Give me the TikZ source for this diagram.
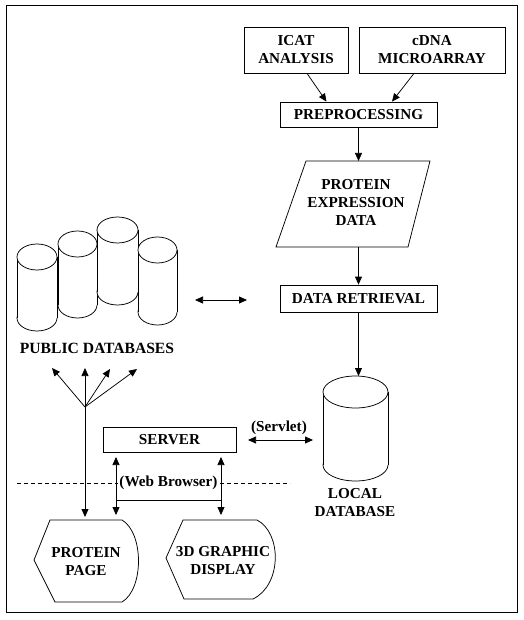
\documentclass[tikz,border=0pt]{standalone}
\usepackage{fontspec}
\setmainfont{Liberation Serif}
\usetikzlibrary{arrows.meta}
\newcommand\mycyl[5]{% cx, ytop, ybot, rx, ry
  \draw[fill=white] (#1,{#3-#5}) ellipse [x radius=#4pt, y radius=#5pt];
  \fill[white] ({#1-#4},{#2+#5}) rectangle ({#1+#4},{#3-#5});
  \draw ({#1-#4},{#2+#5}) -- ({#1-#4},{#3-#5}) ({#1+#4},{#2+#5}) -- ({#1+#4},{#3-#5});
  \draw[fill=white] (#1,{#2+#5}) ellipse [x radius=#4pt, y radius=#5pt];
}
\begin{document}
\begin{tikzpicture}[x=1pt,y=-1pt,line width=0.75pt,
  every node/.style={font=\bfseries\fontsize{15.2}{18}\selectfont},
  box/.style={draw,rectangle,inner sep=0pt,align=center},
  lbl/.style={align=center,inner sep=0pt},
  arr/.style={-{Triangle[length=8pt,width=7pt]}},
  darr/.style={{Triangle[length=8pt,width=7pt]}-{Triangle[length=8pt,width=7pt]}}]
\useasboundingbox (0,0) rectangle (523,620);
\draw[line width=0.9pt] (6,5) rectangle (517,612);

% top boxes
\node[box,minimum width=104pt,minimum height=46pt] (icat) at (296,50) {ICAT\\ANALYSIS};
\node[box,minimum width=146pt,minimum height=46pt] (cdna) at (432,50) {cDNA\\MICROARRAY};
\node[box,minimum width=157pt,minimum height=25pt] (prep) at (358.5,114.5) {PREPROCESSING};
\draw[arr] ([xshift=11pt]icat.south) -- ([xshift=-32pt]prep.north);
\draw[arr] ([xshift=-18pt]cdna.south) -- ([xshift=33.5pt]prep.north);

% protein expression data (parallelogram)
\coordinate (pedtl) at (306,161);
\coordinate (pedtr) at (430,161);
\coordinate (pedbr) at (408,247);
\coordinate (pedbl) at (276,247);
\coordinate (pedtop) at (358.5,161);
\coordinate (pedbot) at (358.5,247);
\draw (pedtl) -- (pedtr) -- (pedbr) -- (pedbl) -- cycle;
\node[lbl] (ped) at (356,202) {PROTEIN\\EXPRESSION\\DATA};
\draw[arr] (prep.south) -- (pedtop);

\node[box,minimum width=157pt,minimum height=27pt] (dr) at (358.5,298.5) {DATA RETRIEVAL};
\draw[arr] (pedbot) -- (dr.north);

% public databases
\mycyl{37}{244}{331}{20}{13}
\mycyl{77.5}{231}{318}{19.5}{13}
\mycyl{117.5}{217}{305}{20.5}{13}
\mycyl{157.5}{237}{325}{19.5}{13}
\node[lbl,font=\bfseries\fontsize{15.6}{19}\selectfont] (pdb) at (97,348) {PUBLIC DATABASES};
\coordinate (dbl1) at (195,300);
\coordinate (dbl2) at (247,300);
\draw[darr] (dbl1) -- (dbl2);

% local database
\mycyl{355.5}{376}{481}{32.5}{16}
\coordinate (ldbtop) at (355.5,376);
\node[lbl] (ldb) at (355,503) {LOCAL\\DATABASE};
\draw[arr] (dr.south) -- (dr.south |- ldbtop);

% fan to public databases
\coordinate (root) at (85,407);
\coordinate (f1) at (52,368);
\coordinate (f2) at (85,368);
\coordinate (f3) at (110,369);
\coordinate (f4) at (137,369);
\foreach \f in {f1,f2,f3,f4} \draw[arr] (root) -- (\f);

% server
\node[box,minimum width=133pt,minimum height=25pt] (srv) at (169.5,439.5) {SERVER};
\coordinate (sv1) at (248,440);
\coordinate (sv2) at (313,440);
\draw[darr] (sv1) -- (sv2);
\node[lbl] (servlet) at (279,428) {(Servlet)};

% web browser
\coordinate (dl1) at (17,483);
\coordinate (dl2) at (290,483);
\draw[dash pattern=on 4pt off 3pt] (dl1) -- (dl2);
\node[lbl,fill=white,inner xsep=1pt] (wb) at (168.5,483) {(Web Browser)};

% protein page
\coordinate (pptop) at (85,517);
\draw (50,520) -- (122,520) .. controls (144,533) and (144,589) .. (122,602) -- (55,602) -- (34,560) -- cycle;
\node[lbl] (pp) at (86,562) {PROTEIN\\PAGE};
% 3d graphic display
\draw (183,520) -- (257,520) .. controls (282,533) and (282,585) .. (253,599) -- (184,599) -- (166,558) -- cycle;
\node[lbl] (gd) at (223,561) {3D GRAPHIC\\DISPLAY};

\draw[arr] (root) -- (pptop);
\coordinate (w1t) at (116,457);
\coordinate (w1b) at (116,515);
\coordinate (w2t) at (221,457);
\coordinate (w2b) at (221,515);
\draw[darr] (w1t) -- (w1b);
\draw[darr] (w2t) -- (w2b);
\draw (116,500) -- (221,500);
\end{tikzpicture}
\end{document}
